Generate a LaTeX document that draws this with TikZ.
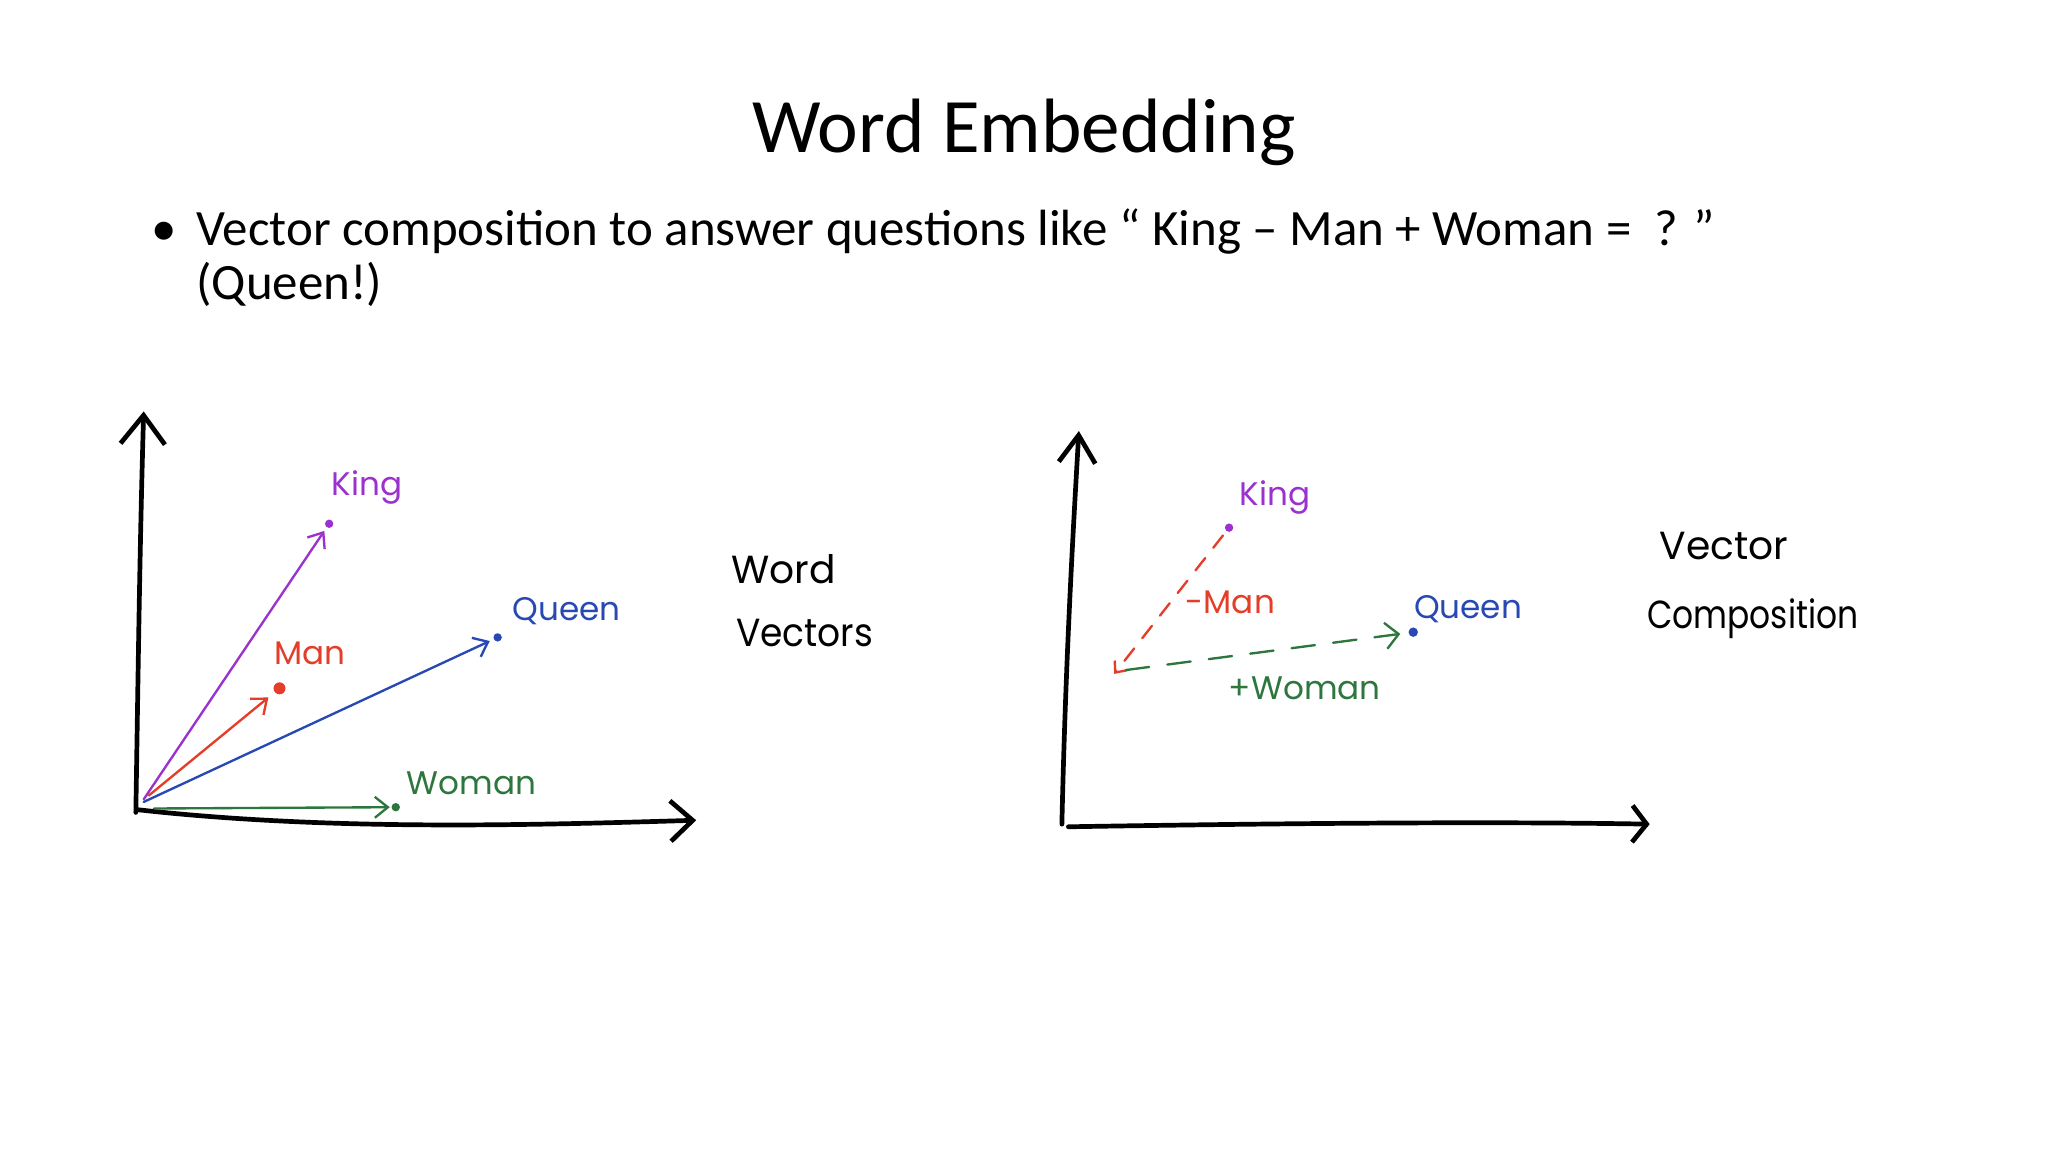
\documentclass[tikz,border=0pt]{standalone}
\usepackage{fontspec}
\usepackage{graphicx}
\setmainfont{Carlito}
\newfontfamily\hand{Poppins}
\usetikzlibrary{arrows.meta}
\definecolor{kingc}{RGB}{155,50,205}
\definecolor{manc}{RGB}{228,62,42}
\definecolor{queenc}{RGB}{40,72,180}
\definecolor{womanc}{RGB}{45,118,62}
\begin{document}
\begin{tikzpicture}[x=0.5pt,y=-0.5pt,
  axis/.style={line width=1.8pt, line cap=round, line join=round, black},
  vec/.style={line width=0.9pt, line cap=round, -{Straight Barb[length=5pt,width=8pt]}},
  dot/.style={circle, fill, inner sep=0pt, minimum size=3.2pt},
  lab/.style={font=\hand\fontsize{12.5}{14}\selectfont, inner sep=0pt},
  big/.style={font=\hand\fontsize{15}{18}\selectfont, inner sep=0pt},
  body/.style={font=\fontsize{19.5}{23}\selectfont, inner sep=0pt},
]
\useasboundingbox (0,0) rectangle (1568,882);
\fill[white] (0,0) rectangle (1568,882);

% title and bullet
\node[anchor=base, font=\fontsize{29.5}{35}\selectfont, inner sep=0pt] (title) at (784,117) {Word Embedding};
\node[anchor=base, body] (bul) at (126,188) {•};
\node[anchor=base west, body] (line1) at (150,188) {Vector composition to answer questions like “ King – Man + Woman =\ \ ? ”};
\node[anchor=base west, body] (line2) at (150,229) {(Queen!)};

% ---------- left chart ----------
\coordinate (oL) at (104,622);
\coordinate (yL) at (110,315);
\coordinate (oLx) at (106,620);
\coordinate (xL) at (533,628);
\draw[axis, -{Straight Barb[length=11pt,width=17pt]}] (oL) .. controls (106,500) and (107,420) .. (yL);
\draw[axis, -{Straight Barb[length=8.5pt,width=15.5pt]}] (oLx) .. controls (250,636) and (400,632) .. (xL);

\node[dot, kingc] (kingL) at (252,401) {};
\node[dot, manc, minimum size=4.6pt] (manL) at (214,527) {};
\node[dot, queenc] (queenL) at (381,488) {};
\node[dot, womanc] (womanL) at (303,618) {};

\coordinate (sK) at (110,612);
\coordinate (sM) at (114,609);
\coordinate (sQ) at (110,614);
\coordinate (sW) at (118,619);
\draw[vec, kingc, shorten >=1.5pt] (sK) -- (kingL);
\draw[vec, manc, shorten >=3pt] (sM) -- (manL);
\draw[vec, queenc, shorten >=1.5pt] (sQ) -- (queenL);
\draw[vec, womanc, shorten >=0.5pt] (sW) -- (womanL);

\node[lab, text=kingc] (kingLt) at (281,373) {King};
\node[lab, text=manc] (manLt) at (237,500) {Man};
\node[lab, text=queenc] (queenLt) at (434,468) {Queen};
\node[lab, text=womanc] (womanLt) at (361,600) {Woman};
\node[big] (wv1) at (600,436) {Word};
\node[big] (wv2) at (616,485) {\scalebox{0.92}[1]{Vectors}};

% ---------- right chart ----------
\coordinate (oR) at (813,631);
\coordinate (yR) at (826,330);
\coordinate (oRx) at (818,633);
\coordinate (xR) at (1263,631);
\draw[axis, -{Straight Barb[length=10.5pt,width=14pt]}] (oR) .. controls (816,500) and (822,400) .. (yR);
\draw[axis, -{Straight Barb[length=5.5pt,width=14pt]}] (oRx) .. controls (1000,630) and (1150,629) .. (xR);

\node[dot, kingc] (kingR) at (941,404) {};
\node[dot, queenc, minimum size=3.6pt] (queenR) at (1082,484) {};
\coordinate (turn) at (853,516);
\coordinate (wstart) at (862,513);

\draw[manc, line width=0.9pt, line cap=round, dash pattern=on 6pt off 5pt, shorten <=2pt,
      -{Straight Barb[length=3.5pt,width=6pt]}] (kingR) -- (turn);
\draw[womanc, line width=0.9pt, line cap=round, dash pattern=on 9pt off 7pt, shorten >=3pt,
      -{Straight Barb[length=5pt,width=10pt]}] (wstart) -- (queenR);

\node[lab, text=kingc] (kingRt) at (976,381) {King};
\node[lab, text=manc] (manRt) at (942,461) {-Man};
\node[lab, text=queenc] (queenRt) at (1124,466) {Queen};
\node[lab, text=womanc] (womanRt) at (999,527) {+Woman};
\node[big] (vc1) at (1320,418) {Vector};
\node[big] (vc2) at (1342,474) {\scalebox{0.84}[1]{Composition}};
\end{tikzpicture}
\end{document}
